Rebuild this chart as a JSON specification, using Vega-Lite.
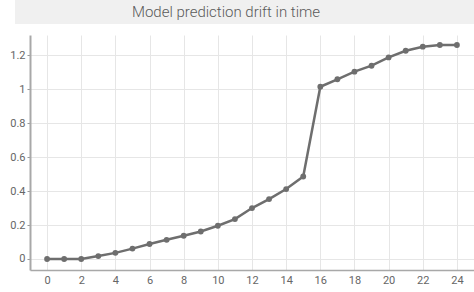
{
  "$schema": "https://vega.github.io/schema/vega-lite/v6.json",
  "padding": 0,
  "center": true,
  "spacing": 11,
  "config": {
    "font": "Roboto",
    "view": {"stroke": null}
  },
  "vconcat": [
    {
      "width": 474,
      "height": 24,
      "view": {"fill": "#f0f0f0", "stroke": null},
      "data": {"values": [{"label": "Model prediction drift in time"}]},
      "mark": {"type": "text", "font": "Roboto", "fontSize": 15, "fontWeight": 300, "color": "#5a5a5a", "baseline": "middle", "dx": -26},
      "encoding": {"text": {"field": "label"}}
    },
    {
      "width": 444,
      "height": 235,
      "data": {
        "values": [
          {"t": 0, "drift": 0.0},
          {"t": 1, "drift": 0.0},
          {"t": 2, "drift": 0.0},
          {"t": 3, "drift": 0.017},
          {"t": 4, "drift": 0.036},
          {"t": 5, "drift": 0.061},
          {"t": 6, "drift": 0.088},
          {"t": 7, "drift": 0.113},
          {"t": 8, "drift": 0.137},
          {"t": 9, "drift": 0.162},
          {"t": 10, "drift": 0.196},
          {"t": 11, "drift": 0.235},
          {"t": 12, "drift": 0.3},
          {"t": 13, "drift": 0.353},
          {"t": 14, "drift": 0.412},
          {"t": 15, "drift": 0.486},
          {"t": 16, "drift": 1.015},
          {"t": 17, "drift": 1.059},
          {"t": 18, "drift": 1.104},
          {"t": 19, "drift": 1.139},
          {"t": 20, "drift": 1.188},
          {"t": 21, "drift": 1.227},
          {"t": 22, "drift": 1.251},
          {"t": 23, "drift": 1.261},
          {"t": 24, "drift": 1.261}
        ]
      },
      "mark": {"type": "line", "color": "#6e6e6e", "strokeWidth": 2.5, "point": {"filled": true, "size": 34, "color": "#6e6e6e", "opacity": 1}},
      "encoding": {
        "x": {
          "field": "t", "type": "quantitative",
          "scale": {"domain": [-1, 25], "nice": false, "zero": false},
          "axis": {"title": null, "values": [0,2,4,6,8,10,12,14,16,18,20,22,24], "labelColor": "#666666", "labelFontSize": 11, "labelPadding": 4, "tickSize": 0, "domainColor": "#a8a8a8", "domainWidth": 1.5, "gridColor": "#e6e6e6", "labelFlush": false}
        },
        "y": {
          "field": "drift", "type": "quantitative",
          "scale": {"domain": [-0.065, 1.32], "nice": false, "zero": false},
          "axis": {"title": null, "values": [0,0.2,0.4,0.6,0.8,1,1.2], "format": "~g", "labelColor": "#666666", "labelFontSize": 11, "labelPadding": 2, "tickSize": 3, "tickColor": "#999999", "domainColor": "#a8a8a8", "domainWidth": 2, "gridColor": "#e6e6e6", "minExtent": 30, "maxExtent": 30}
        }
      }
    }
  ]
}
